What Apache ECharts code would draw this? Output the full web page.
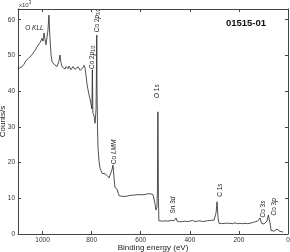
<!DOCTYPE html>
<html><head><meta charset="utf-8">
<script src="https://cdn.jsdelivr.net/npm/echarts@6/dist/echarts.min.js"></script>
<style>html,body{margin:0;padding:0;background:#fff}#c{width:290px;height:252px}</style>
</head><body><div id="c"></div>
<script>
// Binding energy (eV)
const energy = [1100,1092,1084,1076,1068,1059,1051,1043,1035,1027,1019,1010,1002,998,994,990,986,982,978,974,970,965,961,957,953,949,945,941,937,933,929,925,920,916,912,908,904,900,896,892,888,884,880,876,872,868,864,860,855,851,847,843,839,835,831,827,823,819,815,811,807,803,799,797,795,793,790,786,782,779,778,776,774,770,766,762,758,754,750,746,741,737,733,729,725,721,717,713,709,705,700,696,692,688,684,680,672,664,656,648,644,636,628,623,615,607,603,595,587,583,575,567,562,558,554,550,546,542,538,534,532,530,528,526,520,513,507,501,495,489,483,476,472,468,464,460,456,452,446,440,430,420,410,399,389,379,369,359,349,338,328,318,310,301,297,293,289,285,281,277,270,263,257,250,243,236,226,216,206,196,186,175,165,155,145,134,124,114,108,106,102,98,94,90,86,80,73,69,65,61,57,53,49,45,41,35,29,24,20,16,12,8,4,0];
// Counts/s (x10^3)
const counts = [46.3,46.0,46.8,47.5,48.5,49.1,49.0,50.2,51.0,51.8,52.8,53.6,54.8,54.0,56.3,54.5,53.0,53.5,57.0,61.3,55.0,50.0,48.2,47.8,47.5,47.0,47.2,46.9,47.6,48.5,50.1,48.0,46.8,47.1,46.5,46.2,46.9,46.4,46.3,47.0,46.8,46.0,46.2,46.9,46.7,46.1,46.4,45.9,46.8,46.3,45.8,46.0,46.2,46.6,47.2,46.5,44.5,42.0,40.5,39.0,38.0,36.5,35.0,46.0,34.0,33.5,33.0,31.0,35.0,55.7,40.0,30.0,24.0,20.5,18.5,17.8,17.0,16.6,16.5,16.9,16.8,16.4,16.0,15.7,16.5,17.2,18.0,19.3,16.0,13.0,12.8,12.5,11.5,10.7,10.8,10.6,10.5,10.7,10.6,10.8,10.8,10.7,10.9,10.9,11.0,10.9,11.0,11.1,11.0,11.1,11.2,11.2,11.3,11.5,11.8,11.0,9.8,8.5,6.7,7.5,12.0,34.2,10.0,3.7,3.6,3.6,3.8,3.7,3.6,3.6,3.7,3.8,3.6,3.5,3.7,4.2,4.5,3.6,3.4,3.4,3.5,3.6,3.5,3.6,3.8,3.5,3.6,3.7,3.5,3.6,3.7,3.8,3.8,3.9,4.3,6.0,9.0,4.5,3.0,3.1,2.9,2.9,3.0,2.8,3.0,3.1,2.9,3.1,2.9,3.0,2.9,3.0,2.9,3.0,3.2,3.4,3.6,4.5,3.0,2.8,2.7,2.8,2.9,3.1,3.6,5.3,3.0,1.0,0.8,0.7,0.8,0.7,0.8,1.4,1.0,0.8,0.7,0.6,0.6];
// Peak annotations: [rich text, energy, counts, rotated]
const peakLabels = [
  ['O {i|KLL}', 1033, 57.6, false],
  ['Co 2{i|p}{s|1/2}', 796, 49.5, true],
  ['Co 2{i|p}{s|3/2}', 776, 59.8, true],
  ['Co {i|LMM}', 707, 23.0, true],
  ['O 1{i|s}', 534, 40.0, true],
  ['Sn 3{i|d}', 466, 8.1, true],
  ['C 1{i|s}', 277, 12.3, true],
  ['Co 3{i|s}', 102, 7.0, true],
  ['Co 3{i|p}', 57, 7.6, true]
];
const xTicks = [0, 200, 400, 600, 800, 1000];
const yTicks = [0, 10, 20, 30, 40, 50, 60];
const sampleName = '01515-01';

const FONT = 'Liberation Sans, Arial, sans-serif';
const chart = echarts.init(document.getElementById('c'), null, {renderer: 'canvas'});
const axisLine = {show: true, onZero: false, lineStyle: {color: '#444', width: 1}};
const tick = {show: true, inside: true, length: 3, lineStyle: {color: '#444'}};
const option = {
  animation: false,
  backgroundColor: '#fff',
  grid: {left: 18, right: 2, top: 9, bottom: 18, containLabel: false, outerBoundsMode: 'none'},
  xAxis: [{
    type: 'value', min: 0, max: 1100, interval: 200, inverse: true,
    name: 'Binding energy (eV)', nameLocation: 'middle', nameGap: 10, nameMoveOverlap: false,
    nameTextStyle: {fontFamily: FONT, fontSize: 8, color: '#222'},
    axisLine: axisLine, axisTick: tick, splitLine: {show: false},
    axisLabel: {fontFamily: FONT, fontSize: 6.5, color: '#333', margin: 3,
      formatter: v => xTicks.includes(v) ? String(v) : ''}
  }, {
    type: 'value', position: 'top', min: 0, max: 1100, interval: 200, inverse: true,
    axisLine: axisLine, axisTick: tick, axisLabel: {show: false}, splitLine: {show: false}
  }],
  yAxis: [{
    type: 'value', min: 0, max: 63, interval: 10,
    name: 'Counts/s', nameLocation: 'middle', nameGap: 11, nameMoveOverlap: false,
    nameTextStyle: {fontFamily: FONT, fontSize: 8, color: '#222'},
    axisLine: axisLine, axisTick: tick, splitLine: {show: false},
    axisLabel: {fontFamily: FONT, fontSize: 6.5, color: '#333', margin: 3,
      formatter: v => yTicks.includes(v) ? String(v) : ''}
  }, {
    type: 'value', position: 'right', min: 0, max: 63, interval: 10,
    axisLine: axisLine, axisTick: tick, axisLabel: {show: false}, splitLine: {show: false}
  }],
  series: [{
    type: 'line', xAxisIndex: 0, yAxisIndex: 0,
    data: energy.map((e, i) => [e, counts[i]]),
    showSymbol: false, symbol: 'none',
    lineStyle: {color: '#262626', width: 0.8}
  }]
};
chart.setOption(option);

const rich = {
  i: {fontStyle: 'italic', fontFamily: FONT, fontSize: 6.5, fill: '#222'},
  s: {fontFamily: FONT, fontSize: 4.5, fill: '#222', verticalAlign: 'bottom', padding: [3, 0, 0, 0]}
};
const graphics = peakLabels.map(([t, e, c, rot]) => {
  const p = chart.convertToPixel({xAxisIndex: 0, yAxisIndex: 0}, [e, c]);
  return {
    type: 'text', x: p[0], y: p[1], rotation: rot ? Math.PI / 2 : 0, silent: true,
    style: {text: t, rich: rich, fontFamily: FONT, fontSize: 6.5, fill: '#222',
      align: 'center', verticalAlign: 'middle'}
  };
});
graphics.push({
  type: 'text', x: 246, y: 23, silent: true,
  style: {text: sampleName, fontFamily: FONT, fontWeight: 'bold', fontSize: 9.5, fill: '#111',
    align: 'center', verticalAlign: 'middle'}
});
graphics.push({
  type: 'text', x: 19, y: 5, silent: true,
  style: {text: 'x10{s|3}', rich: {s: {fontFamily: FONT, fontSize: 4.5, fill: '#333', padding: [0, 0, 4, 0]}},
    fontFamily: FONT, fontSize: 6, fill: '#333', align: 'left', verticalAlign: 'middle'}
});
chart.setOption({graphic: graphics});
</script>
</body></html>
